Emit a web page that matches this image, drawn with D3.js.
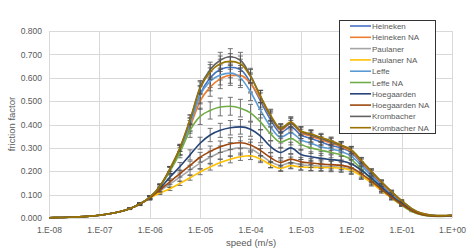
<!DOCTYPE html>
<html lang="en">
<head>
<meta charset="utf-8">
<title>friction factor vs speed</title>
<script src="https://cdn.jsdelivr.net/npm/d3@7"></script>
<style>
body { margin: 0; background: #fff; }
svg { font-family: "Liberation Sans", "DejaVu Sans", sans-serif; }
.grid line { stroke: #d9d9d9; stroke-width: 1; }
.tick text { fill: #595959; font-size: 8.5px; }
</style>
</head>
<body>
<svg width="474" height="250"></svg>
<script>

// speed exponents (log10 of m/s), one per measured point
var speedExp = [-8.0, -7.8, -7.6, -7.4, -7.2, -7.0, -6.8, -6.6, -6.4, -6.2,
  -6.0, -5.8, -5.6, -5.4, -5.2, -5.0, -4.8, -4.6, -4.4, -4.2,
  -4.0, -3.8, -3.6, -3.4, -3.2, -3.0, -2.8, -2.6, -2.4, -2.2,
  -2.0, -1.8, -1.6, -1.4, -1.2, -1.0, -0.8, -0.6, -0.4, -0.2, 0.0];

var xTicks = [1e-8, 1e-7, 1e-6, 1e-5, 1e-4, 1e-3, 1e-2, 1e-1, 1e0];
var xTickLabels = ["1.E-08", "1.E-07", "1.E-06", "1.E-05", "1.E-04", "1.E-03", "1.E-02", "1.E-01", "1.E+00"];
var yTicks = [0, 0.1, 0.2, 0.3, 0.4, 0.5, 0.6, 0.7, 0.8];

var names = ["Heineken", "Heineken NA", "Paulaner", "Paulaner NA", "Leffe", "Leffe NA",
  "Hoegaarden", "Hoegaarden NA", "Krombacher", "Krombacher NA"];
var colors = ["#4472c4", "#ed7d31", "#a5a5a5", "#ffc000", "#5b9bd5", "#70ad47",
  "#264478", "#9e480e", "#636363", "#997300"];
// relative standard deviation of each beer (error bars)
var relErr = [0.07, 0.07, 0.10, 0.06, 0.07, 0.08, 0.08, 0.08, 0.05, 0.05];

var heineken = [0.001, 0.002, 0.003, 0.005, 0.008, 0.012, 0.018, 0.027, 0.040, 0.060,
  0.088, 0.135, 0.205, 0.29, 0.40, 0.53, 0.60, 0.635, 0.645, 0.635,
  0.58, 0.50, 0.42, 0.365, 0.39, 0.355, 0.34, 0.325, 0.31, 0.30,
  0.28, 0.235, 0.19, 0.145, 0.105, 0.068, 0.036, 0.018, 0.011, 0.009, 0.011];
var heinekenNA = [0.001, 0.002, 0.003, 0.005, 0.008, 0.012, 0.018, 0.027, 0.040, 0.060,
  0.088, 0.135, 0.205, 0.29, 0.39, 0.50, 0.56, 0.595, 0.61, 0.61,
  0.575, 0.51, 0.435, 0.375, 0.405, 0.365, 0.35, 0.335, 0.32, 0.305,
  0.285, 0.24, 0.195, 0.15, 0.108, 0.07, 0.037, 0.018, 0.011, 0.009, 0.011];
var paulaner = [0.001, 0.002, 0.003, 0.005, 0.008, 0.012, 0.018, 0.027, 0.040, 0.059,
  0.085, 0.115, 0.145, 0.175, 0.205, 0.235, 0.26, 0.28, 0.293, 0.30,
  0.295, 0.27, 0.24, 0.225, 0.237, 0.228, 0.224, 0.222, 0.22, 0.217,
  0.207, 0.183, 0.152, 0.118, 0.085, 0.055, 0.03, 0.015, 0.009, 0.008, 0.01];
var paulanerNA = [0.001, 0.002, 0.003, 0.005, 0.008, 0.012, 0.018, 0.027, 0.040, 0.059,
  0.085, 0.107, 0.125, 0.148, 0.172, 0.197, 0.218, 0.237, 0.251, 0.262,
  0.266, 0.252, 0.228, 0.212, 0.224, 0.218, 0.216, 0.216, 0.215, 0.213,
  0.203, 0.18, 0.15, 0.117, 0.085, 0.055, 0.03, 0.015, 0.009, 0.008, 0.01];
var leffe = [0.001, 0.002, 0.003, 0.005, 0.008, 0.012, 0.018, 0.027, 0.040, 0.060,
  0.088, 0.135, 0.205, 0.29, 0.40, 0.525, 0.585, 0.612, 0.62, 0.60,
  0.54, 0.46, 0.39, 0.345, 0.365, 0.335, 0.32, 0.305, 0.295, 0.285,
  0.265, 0.225, 0.18, 0.138, 0.10, 0.064, 0.034, 0.017, 0.01, 0.009, 0.011];
var leffeNA = [0.001, 0.002, 0.003, 0.005, 0.008, 0.012, 0.018, 0.027, 0.040, 0.060,
  0.088, 0.135, 0.20, 0.28, 0.375, 0.435, 0.46, 0.475, 0.478, 0.47,
  0.45, 0.41, 0.36, 0.325, 0.34, 0.315, 0.30, 0.29, 0.28, 0.27,
  0.25, 0.21, 0.165, 0.125, 0.088, 0.055, 0.028, 0.013, 0.008, 0.007, 0.009];
var hoegaarden = [0.001, 0.002, 0.003, 0.005, 0.008, 0.012, 0.018, 0.027, 0.040, 0.060,
  0.086, 0.125, 0.175, 0.22, 0.27, 0.32, 0.355, 0.375, 0.386, 0.39,
  0.38, 0.35, 0.305, 0.28, 0.30, 0.272, 0.262, 0.255, 0.25, 0.245,
  0.232, 0.205, 0.17, 0.132, 0.095, 0.062, 0.033, 0.016, 0.01, 0.008, 0.01];
var hoegaardenNA = [0.001, 0.002, 0.003, 0.005, 0.008, 0.012, 0.018, 0.027, 0.040, 0.059,
  0.085, 0.12, 0.155, 0.19, 0.225, 0.26, 0.285, 0.305, 0.318, 0.322,
  0.312, 0.288, 0.258, 0.238, 0.252, 0.24, 0.235, 0.231, 0.228, 0.225,
  0.215, 0.19, 0.158, 0.123, 0.089, 0.058, 0.031, 0.015, 0.009, 0.008, 0.01];
var krombacher = [0.001, 0.002, 0.003, 0.005, 0.008, 0.012, 0.018, 0.027, 0.040, 0.060,
  0.088, 0.135, 0.21, 0.30, 0.42, 0.56, 0.635, 0.675, 0.69, 0.675,
  0.61, 0.52, 0.435, 0.38, 0.405, 0.37, 0.355, 0.34, 0.325, 0.31,
  0.29, 0.245, 0.20, 0.155, 0.113, 0.074, 0.04, 0.02, 0.012, 0.01, 0.012];
var krombacherNA = [0.001, 0.002, 0.003, 0.005, 0.008, 0.012, 0.018, 0.027, 0.040, 0.060,
  0.088, 0.135, 0.21, 0.30, 0.42, 0.555, 0.625, 0.66, 0.67, 0.66,
  0.605, 0.52, 0.44, 0.385, 0.41, 0.372, 0.36, 0.345, 0.33, 0.312,
  0.292, 0.247, 0.20, 0.155, 0.113, 0.074, 0.04, 0.02, 0.012, 0.01, 0.012];

var seriesValues = [heineken, heinekenNA, paulaner, paulanerNA, leffe, leffeNA,
  hoegaarden, hoegaardenNA, krombacher, krombacherNA];

var svg = d3.select("svg");

var x = d3.scaleLog().domain([1e-8, 1]).range([49, 452]);
var y = d3.scaleLinear().domain([0, 0.8]).range([218, 31]);

// gridlines
var grid = svg.append("g").attr("class", "grid");
grid.selectAll("line.h").data(yTicks).enter().append("line")
    .attr("x1", x(1e-8)).attr("x2", x(1))
    .attr("y1", function(d) { return Math.round(y(d)) + 0.5; })
    .attr("y2", function(d) { return Math.round(y(d)) + 0.5; });
grid.selectAll("line.v").data(xTicks).enter().append("line")
    .attr("y1", y(0)).attr("y2", y(0.8))
    .attr("x1", function(d) { return Math.round(x(d)) + 0.5; })
    .attr("x2", function(d) { return Math.round(x(d)) + 0.5; });

// axes (labels only, no domain lines)
svg.append("g")
    .attr("transform", "translate(0,221)")
    .call(d3.axisBottom(x).tickValues(xTicks).tickSize(0).tickPadding(6)
      .tickFormat(function(d, i) { return xTickLabels[i]; }))
  .call(function(g) { g.select(".domain").remove(); });

svg.append("g")
    .attr("transform", "translate(45,0)")
    .call(d3.axisLeft(y).tickValues(yTicks).tickSize(0).tickPadding(3)
      .tickFormat(d3.format(".3f")))
  .call(function(g) { g.select(".domain").remove(); });

svg.append("text")
    .attr("x", 251).attr("y", 246)
    .attr("text-anchor", "middle")
    .attr("fill", "#595959").attr("font-size", 9.5)
    .text("speed (m/s)");
svg.append("text")
    .attr("transform", "translate(15,124) rotate(-90)")
    .attr("text-anchor", "middle")
    .attr("fill", "#595959").attr("font-size", 9.5)
    .text("friction factor");

var line = d3.line()
    .x(function(d) { return x(Math.pow(10, d[0])); })
    .y(function(d) { return y(d[1]); })
    .curve(d3.curveMonotoneX);

// each series: error bars then line, in legend order
seriesValues.forEach(function(vals, s) {
  var pts = speedExp.map(function(e, i) { return [e, vals[i]]; });
  var eb = svg.append("g").attr("stroke", "#4d4d4d").attr("stroke-width", 0.9).attr("opacity", 0.85);
  pts.forEach(function(p) {
    var err = p[1] * relErr[s];
    if (err < 0.003) return;
    var px = x(Math.pow(10, p[0]));
    eb.append("line").attr("x1", px).attr("x2", px).attr("y1", y(p[1] - err)).attr("y2", y(p[1] + err));
    eb.append("line").attr("x1", px - 2.5).attr("x2", px + 2.5).attr("y1", y(p[1] - err)).attr("y2", y(p[1] - err));
    eb.append("line").attr("x1", px - 2.5).attr("x2", px + 2.5).attr("y1", y(p[1] + err)).attr("y2", y(p[1] + err));
  });
  svg.append("path")
      .datum(pts)
      .attr("fill", "none")
      .attr("stroke", colors[s])
      .attr("stroke-width", 1.6)
      .attr("d", line);
});

// legend
var lg = svg.append("g").attr("transform", "translate(339,20)");
lg.append("rect")
    .attr("x", 0.5).attr("y", 0.5).attr("width", 96).attr("height", 113)
    .attr("fill", "#fff").attr("stroke", "#333").attr("stroke-width", 1);
names.forEach(function(n, i) {
  var ly = 6 + i * 11.3;
  lg.append("line").attr("x1", 11).attr("x2", 32).attr("y1", ly).attr("y2", ly)
      .attr("stroke", colors[i]).attr("stroke-width", 1.6);
  lg.append("text").attr("x", 33).attr("y", ly + 3)
      .attr("fill", "#595959").attr("font-size", 8)
      .text(n);
});
</script>
</body>
</html>
